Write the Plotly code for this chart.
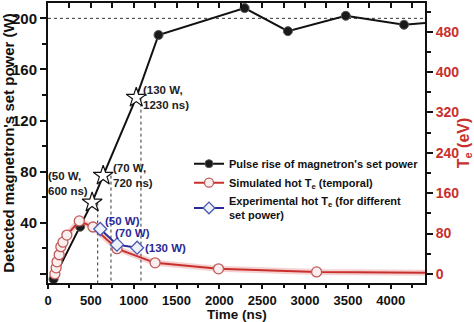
import plotly.graph_objects as go

# Pulse rise of the magnetron's set power (left axis, W)
pulse_time = [65, 375, 515, 644, 1030, 1290, 2295, 2800, 3475, 4155, 4500]
pulse_power = [-4, 37, 56, 77, 138, 187, 208, 190, 202, 195, 197]
star_idx = [2, 3, 4]
star_labels = ["(50 W,<br>600 ns)", "(70 W,<br>720 ns)", "(130 W,<br>1230 ns)"]

# Dotted guide lines dropped from the marked set-power points
guide_time = [580, 735, 1085]
set_power_ref = 200

# Simulated hot electron temperature vs time (right axis, eV)
sim_time = [80, 95, 105, 130, 150, 175, 220, 365, 525, 805, 1250, 1990, 3135, 4500]
sim_te = [0, 12, 24, 38, 54, 63, 77, 105, 93, 50, 22, 10, 4, 2]

# Experimental hot electron temperature for different set powers (right axis, eV)
exp_time = [610, 805, 1040]
exp_te = [89, 58, 52]
exp_labels = ["(50 W)", "(70 W)", "(130 W)"]

x_range = [0, 4400]
y_range = [-7, 212]
y2_range = [-18, 537]

BLACK = "#111111"
RED = "#c8302e"
BLUE = "#2a2a96"
FONT = "Liberation Sans, Arial, sans-serif"

fig = go.Figure()

# reference level of the set power
fig.add_trace(go.Scatter(
    x=[x_range[0], x_range[1] + 40], y=[set_power_ref, set_power_ref],
    mode="lines", line=dict(color="#333", width=1, dash="dot"),
    showlegend=False, hoverinfo="skip", cliponaxis=False))

# vertical dotted guides from each star down to the time axis
for i, t in zip(star_idx, guide_time):
    fig.add_trace(go.Scatter(
        x=[t, t], y=[pulse_power[i], y_range[0]],
        mode="lines", line=dict(color="#333", width=1, dash="dot"),
        showlegend=False, hoverinfo="skip"))

# simulated Te: faint halo, line and markers
fig.add_trace(go.Scatter(
    x=sim_time, y=sim_te, yaxis="y2", mode="lines",
    line=dict(color="rgba(220,90,90,0.28)", width=6),
    showlegend=False, hoverinfo="skip"))
fig.add_trace(go.Scatter(
    x=sim_time, y=sim_te, yaxis="y2", mode="lines+markers",
    line=dict(color=RED, width=2),
    marker=dict(symbol="circle", size=10, color="#fbeeee",
                line=dict(color="#c05a5a", width=1.3)),
    showlegend=False))

# experimental Te
fig.add_trace(go.Scatter(
    x=exp_time, y=exp_te, yaxis="y2", mode="lines+markers",
    line=dict(color=BLUE, width=2),
    marker=dict(symbol="diamond", size=10, color="#eef0fa",
                line=dict(color="#4a5ab0", width=1.3)),
    showlegend=False))

# pulse rise line with circular markers, stars at the marked powers
fig.add_trace(go.Scatter(
    x=pulse_time, y=pulse_power, mode="lines",
    line=dict(color=BLACK, width=2), showlegend=False))
circ_idx = [i for i in range(len(pulse_time)) if i not in star_idx]
fig.add_trace(go.Scatter(
    x=[pulse_time[i] for i in circ_idx], y=[pulse_power[i] for i in circ_idx],
    mode="markers",
    marker=dict(symbol="circle", size=9, color="#1a1a1a",
                line=dict(color="#555", width=1)),
    showlegend=False))
fig.add_trace(go.Scatter(
    x=[pulse_time[i] for i in star_idx], y=[pulse_power[i] for i in star_idx],
    mode="markers",
    marker=dict(symbol="star", size=15, color="white",
                line=dict(color=BLACK, width=1.2)),
    showlegend=False))

# legend entries
fig.add_trace(go.Scatter(
    x=[None], y=[None], mode="lines+markers", name="Pulse rise of magnetron's set power",
    line=dict(color=BLACK, width=2),
    marker=dict(symbol="circle", size=8, color="#1a1a1a", line=dict(color="#555", width=1))))
fig.add_trace(go.Scatter(
    x=[None], y=[None], mode="lines+markers", name="Simulated hot T<sub>e</sub> (temporal)",
    line=dict(color=RED, width=2),
    marker=dict(symbol="circle", size=9, color="#fbeeee", line=dict(color="#c05a5a", width=1.3))))
fig.add_trace(go.Scatter(
    x=[None], y=[None], mode="lines+markers",
    name="Experimental hot T<sub>e</sub> (for different<br>set power)",
    line=dict(color=BLUE, width=2),
    marker=dict(symbol="diamond", size=9, color="#eef0fa", line=dict(color="#4a5ab0", width=1.3))))

# top axis carrier
fig.add_trace(go.Scatter(x=[], y=[], xaxis="x2", showlegend=False, hoverinfo="skip"))

annotations = []
# star labels
star_pos = [
    dict(xanchor="right", yanchor="bottom", xshift=-2, yshift=3),
    dict(xanchor="left", yanchor="middle", xshift=8, yshift=0),
    dict(xanchor="left", yanchor="middle", xshift=5, yshift=0),
]
for i, txt, p in zip(star_idx, star_labels, star_pos):
    annotations.append(dict(
        x=pulse_time[i], y=pulse_power[i], xref="x", yref="y", text=txt,
        showarrow=False, align="left",
        font=dict(family=FONT, size=11.5, color="#222", weight="bold"), **p))
# experimental labels
exp_pos = [
    dict(xanchor="center", xshift=22, yshift=8),
    dict(xanchor="center", xshift=16, yshift=12),
    dict(xanchor="left", xshift=6, yshift=0),
]
for t, te, txt, p in zip(exp_time, exp_te, exp_labels, exp_pos):
    annotations.append(dict(
        x=t, y=te, xref="x", yref="y2", text=txt, showarrow=False,
        yanchor="middle", font=dict(family=FONT, size=11.5, color=BLUE, weight="bold"), **p))

# time-axis title placed below the tick labels
annotations.append(dict(
    x=0.5, y=0, xref="paper", yref="paper", text="Time (ns)", showarrow=False,
    xanchor="center", yanchor="top", yshift=-23, borderpad=0,
    font=dict(family=FONT, size=13.5, color="#111", weight="bold")))

tick_font = dict(family=FONT, size=13, color="#111", weight="bold")

fig.update_layout(
    width=474, height=322,
    margin=dict(l=48, r=49, t=3, b=39, autoexpand=False),
    paper_bgcolor="white", plot_bgcolor="white",
    font=dict(family=FONT, color="#111", weight="bold"),
    showlegend=True,
    legend=dict(x=0.374, y=0.478, xanchor="left", yanchor="top",
                bgcolor="rgba(0,0,0,0)", borderwidth=0,
                font=dict(family=FONT, size=11, color="#111", weight="bold"),
                tracegroupgap=0, itemwidth=30),
    xaxis=dict(
        range=x_range, tickvals=list(range(0, 4001, 500)), automargin=False,
        ticks="outside", ticklen=4, tickwidth=1.5, tickcolor=BLACK,
        minor=dict(dtick=250, ticks="outside", ticklen=3, tickwidth=1.5, tickcolor=BLACK),
        showline=True, linecolor=BLACK, linewidth=2, showgrid=False, zeroline=False,
        tickfont=tick_font),
    xaxis2=dict(
        range=x_range, overlaying="x", side="top", automargin=False,
        tickvals=list(range(0, 4401, 250)), ticks="inside", ticklen=5, tickwidth=1.5,
        tickcolor=BLACK, showticklabels=False, showline=True, linecolor=BLACK,
        linewidth=2, showgrid=False, zeroline=False),
    yaxis=dict(
        range=y_range, tickvals=list(range(0, 201, 40)), automargin=False,
        ticktext=[""] + [str(v) for v in range(40, 201, 40)],
        ticks="outside", ticklen=6, tickwidth=1.5, tickcolor=BLACK,
        minor=dict(dtick=20, ticks="outside", ticklen=4, tickwidth=1.5, tickcolor=BLACK),
        showline=True, linecolor=BLACK, linewidth=2, showgrid=False, zeroline=False,
        tickfont=dict(family=FONT, size=15, color="#111", weight="bold"),
        title=dict(text="Detected magnetron's set power (W)",
                   font=dict(family=FONT, size=15, color="#111", weight="bold"), standoff=2)),
    yaxis2=dict(
        range=y2_range, overlaying="y", side="right", automargin=False,
        tickvals=list(range(0, 481, 80)),
        ticks="outside", ticklen=6, tickwidth=1.5, tickcolor=BLACK,
        minor=dict(dtick=40, ticks="outside", ticklen=4, tickwidth=1.5, tickcolor=BLACK),
        showline=True, linecolor=BLACK, linewidth=2, showgrid=False, zeroline=False,
        tickfont=dict(family=FONT, size=14, color=RED, weight="bold"),
        title=dict(text="T<sub>e</sub> (eV)",
                   font=dict(family=FONT, size=16, color=RED, weight="bold"), standoff=6)),
    annotations=annotations,
)

fig.write_html("out.html")
